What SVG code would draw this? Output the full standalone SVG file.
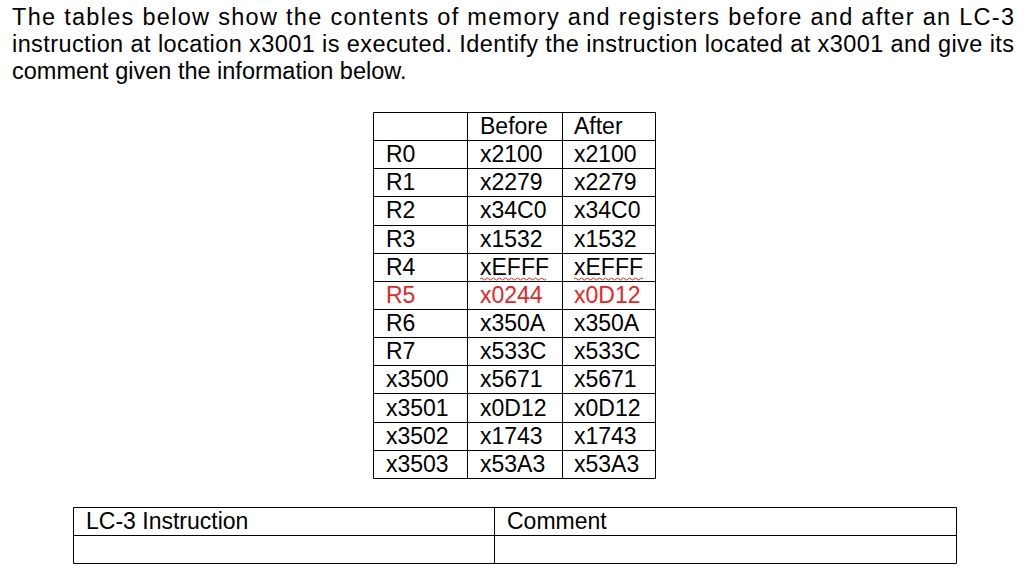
<svg xmlns="http://www.w3.org/2000/svg" width="1024" height="574" viewBox="0 0 1024 574">
<style>
text{font-family:"Liberation Sans",Arial,sans-serif;fill:#000}
.h{font-size:23.5px}
.t{font-size:23px}
.r{fill:#e8251f}
.g{stroke:#000;stroke-width:1;fill:none}
</style>
<rect width="1024" height="574" fill="#fff"/>
<text class="h" x="12" y="25" textLength="1002" lengthAdjust="spacing">The tables below show the contents of memory and registers before and after an LC-3</text>
<text class="h" x="12" y="52" textLength="1002" lengthAdjust="spacing">instruction at location x3001 is executed. Identify the instruction located at x3001 and give its</text>
<text class="h" x="12" y="79">comment given the information below.</text>
<g id="memtable">
<path class="g" d="M373.5 112.5H655.5V478.5H373.5Z M467.5 112.5V478.5 M562.5 112.5V478.5 M373.5 140.5H655.5 M373.5 168.5H655.5 M373.5 196.5H655.5 M373.5 225.5H655.5 M373.5 253.5H655.5 M373.5 281.5H655.5 M373.5 309.5H655.5 M373.5 337.5H655.5 M373.5 365.5H655.5 M373.5 393.5H655.5 M373.5 422.5H655.5 M373.5 450.5H655.5"/>
<g class="t">
<text x="480" y="134">Before</text><text x="574" y="134">After</text>
<text x="386" y="162">R0</text><text x="480" y="162">x2100</text><text x="574" y="162">x2100</text>
<text x="386" y="190">R1</text><text x="480" y="190">x2279</text><text x="574" y="190">x2279</text>
<text x="386" y="218">R2</text><text x="480" y="218">x34C0</text><text x="574" y="218">x34C0</text>
<text x="386" y="247">R3</text><text x="480" y="247">x1532</text><text x="574" y="247">x1532</text>
<text x="386" y="275">R4</text><text x="480" y="275">xEFFF</text><text x="574" y="275">xEFFF</text>
<text x="386" y="303" class="r">R5</text><text x="480" y="303" class="r">x0244</text><text x="574" y="303" class="r">x0D12</text>
<text x="386" y="331">R6</text><text x="480" y="331">x350A</text><text x="574" y="331">x350A</text>
<text x="386" y="359">R7</text><text x="480" y="359">x533C</text><text x="574" y="359">x533C</text>
<text x="386" y="387">x3500</text><text x="480" y="387">x5671</text><text x="574" y="387">x5671</text>
<text x="386" y="416">x3501</text><text x="480" y="416">x0D12</text><text x="574" y="416">x0D12</text>
<text x="386" y="444">x3502</text><text x="480" y="444">x1743</text><text x="574" y="444">x1743</text>
<text x="386" y="472">x3503</text><text x="480" y="472">x53A3</text><text x="574" y="472">x53A3</text>
</g>
<path d="M480 279 q1.5 -2 3 0 t3 0 t3 0 t3 0 t3 0 t3 0 t3 0 t3 0 t3 0 t3 0 t3 0 t3 0 t3 0 t3 0 t3 0 t3 0 t3 0 t3 0 t3 0 t3 0 t3 0 t3 0 M574 279 q1.5 -2 3 0 t3 0 t3 0 t3 0 t3 0 t3 0 t3 0 t3 0 t3 0 t3 0 t3 0 t3 0 t3 0 t3 0 t3 0 t3 0 t3 0 t3 0 t3 0 t3 0 t3 0 t3 0 t3 0" fill="none" stroke="#e8251f" stroke-width="1"/>
</g>
<g id="answertable">
<path class="g" d="M73.5 507.5H956.5V563.5H73.5Z M73.5 535.5H956.5 M494.5 507.5V563.5"/>
<text class="t" x="86" y="529">LC-3 Instruction</text>
<text class="t" x="507" y="529">Comment</text>
</g>
</svg>
